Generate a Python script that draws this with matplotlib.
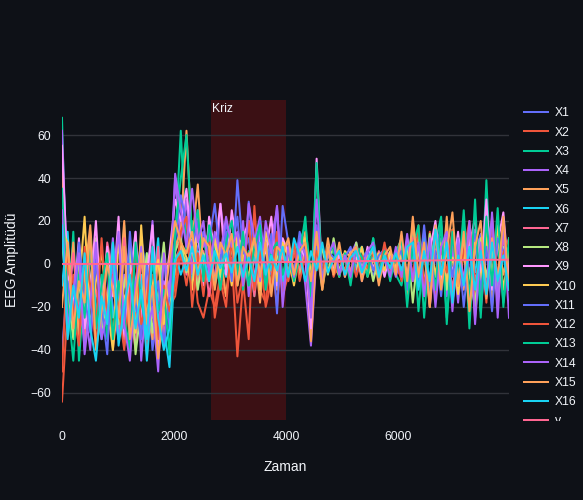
import numpy as np
import matplotlib
matplotlib.use("Agg")
import matplotlib.pyplot as plt
from matplotlib.patches import Rectangle

plt.rcParams['font.family'] = ['Liberation Sans', 'DejaVu Sans']

# EEG channel values (one value every ~100 time steps)
t_end = 7980
seizure_start, seizure_end = 2660, 4000

X1 = [30, -12, 5, -25, -8, 10, -30, -15, 2, -20,
      -35, 8, -10, -28, 12, -5, -40, -18, 4, -30,
      5, 20, 12, -5, 8, 15, -3, 10, -8, 20,
      5, 22, -10, 29, 3, -12, 8, -5, 27, -15,
      6, -4, 9, 2, -20, 18, -3, 5, -2, 4,
      -5, 3, 6, -4, 2, -6, 5, 1, -3, 4,
      8, -10, 12, -5, 15, -12, 6, 18, -8, 10,
      -15, 12, -20, 5, 14, -10, 20, -18, 8, -5]
X2 = [-64, -20, -5, -32, 3, -15, -38, -8, -22, 6,
      -18, -30, 2, -25, -10, -42, -5, -28, -12, -20,
      -15, 5, -10, 8, -18, -25, -12, -20, -5, -15,
      3, -43, -8, -35, 27, -12, -18, 5, -20, 10,
      -8, 5, -3, 12, -6, 2, -4, 6, -2, -5,
      3, -4, 8, 2, -5, 4, -3, 6, 1, -2,
      -6, 10, -8, 4, -12, 15, -5, 8, -10, 5,
      12, -8, 18, -20, 6, -12, 10, -5, 14, -8]
X3 = [68, -30, 15, -45, -10, 5, -25, -5, -35, 10,
      -20, 18, -42, -8, -30, 5, -15, -38, -10, -25,
      10, 62, 5, 20, -8, 12, -3, 8, -10, 15,
      -5, 10, -12, 6, -15, 12, -8, 4, -10, 8,
      5, -8, 10, 18, -5, 8, -10, 3, 6, -4,
      2, -6, 5, 8, -3, 12, -8, 4, 2, -5,
      -10, 5, 15, -22, 8, -15, 10, 22, -25, 6,
      -12, 20, -30, 15, -20, 39, -15, 10, -18, 5]
X4 = [62, -10, -30, 8, -20, -40, 5, -28, -15, 12,
      -35, -5, -22, 15, -45, -12, 20, -30, -8, -20,
      40, 10, 30, -5, 25, 8, 15, -10, 28, 5,
      12, -8, 20, -15, 10, 22, -5, 12, 25, -10,
      8, -4, 12, -10, -38, 5, -5, 8, -4, 6,
      -6, 4, 10, -8, 5, 2, -4, 8, 3, -6,
      5, -12, 10, -8, 14, -20, 6, 12, -15, 8,
      -18, 10, -5, 16, -22, 8, 20, -25, 18, -10]
X5 = [45, -22, 10, -35, -5, 18, -25, -12, 5, -40,
      -15, 20, -30, -8, 10, -20, -35, 5, -25, -10,
      8, 15, 62, 10, 37, -3, 12, -8, 5, -15,
      10, -5, 15, -10, 8, -18, 12, -3, -12, 6,
      10, -6, 4, 15, -36, 8, -8, 12, -5, 3,
      4, -8, 6, 2, -5, 10, -6, 3, -2, 5,
      12, -15, 20, -8, 6, -20, 15, -10, 22, -18,
      8, -12, 18, -25, 10, 15, -20, 12, -5, 8]
X6 = [-10, 15, -30, -5, -40, 10, -20, -35, 5, -25,
      -15, -38, 8, -22, -5, -45, -12, 12, -30, -48,
      5, -5, 3, -8, 6, -2, 4, -10, 2, -6,
      8, -4, 5, -10, 3, -6, 10, -3, 6, -8,
      4, -6, 10, 2, -8, 5, -3, 8, -5, 2,
      -3, 6, -2, 8, -4, 3, -6, 5, 2, -3,
      6, -8, 4, -5, 12, -10, 18, -6, 8, -12,
      5, -8, 10, -4, 12, -15, 6, -10, 8, -4]
X7 = [20, -25, 5, -18, -35, 8, -12, -28, 10, -5,
      -30, 12, -20, -40, 3, -15, -25, 8, -35, -12,
      2, 8, -5, 12, -10, 6, -15, 4, -8, 10,
      -6, 12, -10, 5, -15, 8, -3, 10, -8, 4,
      -5, 8, -3, 6, -10, 12, -4, 5, -2, 3,
      5, -3, 2, -5, 4, -2, 6, -4, 3, -1,
      8, -6, 12, -10, 5, -8, 14, -4, 10, -12,
      6, -10, 15, -8, 4, -14, 9, -6, 12, -3]
X8 = [10, -15, -35, 5, -22, -8, 12, -30, -18, 3,
      -28, -10, 8, -42, -20, 5, -32, -14, 10, -22,
      6, 12, -4, 8, -12, 5, -2, 10, -6, 3,
      7, -10, 4, -8, 12, -5, 8, -12, 3, 6,
      -4, 10, -6, 5, -8, 3, 7, -5, 12, -3,
      4, -6, 10, -2, 5, -8, 3, 6, -4, 2,
      -5, 10, -18, 8, -10, 14, -6, 4, -12, 16,
      -8, 10, -5, -20, 12, -6, 10, -15, 8, 2]
X9 = [55, -5, -20, 12, -30, -12, 20, -25, 8, -15,
      22, -35, -8, 15, -25, -5, 18, -40, -15, 5,
      30, 20, 35, 5, 15, -10, 22, 6, 28, -5,
      25, 8, 12, 20, -8, 15, 5, 22, -10, 12,
      5, -6, 8, 3, -30, 49, -8, 6, -3, 4,
      -4, 6, 3, -5, 8, -2, 4, -6, 5, 2,
      10, -6, 8, 14, -10, 6, 20, -8, 12, -5,
      15, -10, 8, 22, -6, 30, -12, 10, 24, -8]
X10 = [15, 10, -25, -12, 22, -30, -8, 5, -20, -40,
       12, -18, -5, -32, 18, -22, -10, 2, -28, -8,
       -5, 10, 3, -12, 18, 2, -8, 12, -4, 6,
       -10, 14, 3, -6, 10, -12, 15, 5, -8, 10,
       3, -10, 6, 12, -4, 8, -12, 5, 2, -6,
       6, 3, -4, 8, -6, 2, 5, -3, 6, -2,
       4, -10, 6, 12, -15, 8, -5, 10, -8, 3,
       -14, 6, -20, 10, -8, 12, -5, 18, -12, 6]
X11 = [-40, -8, -28, 10, -15, -32, 2, -20, -42, 8,
       -12, -30, 15, -18, -35, 0, -22, -8, -38, -15,
       12, 32, 18, 8, 20, -5, 10, 28, 2, 15,
       -8, 39, 5, 12, -10, 20, -6, 14, -23, 27,
       10, -5, 15, 4, -6, 8, -10, 6, 3, -4,
       3, 8, -5, 2, 6, -3, 4, 7, -6, 3,
       6, -12, 10, -8, 18, -10, 6, -15, 12, -6,
       10, -20, 6, 14, -12, 8, -22, 12, 6, -10]
X12 = [-50, 5, -22, -38, 8, -10, -30, 12, -25, -5,
       -20, -40, -12, 5, -28, -18, 8, -35, -10, -22,
       -10, 15, 22, -20, 5, -15, 10, -25, -8, -20,
       12, -18, -5, 20, -12, 6, -20, -8, 15, -15,
       -5, 10, -8, 4, -12, 6, -3, 8, -6, 2,
       -3, 5, -6, 4, -2, 6, -4, 10, -5, 3,
       -8, 12, -6, 18, -10, 5, -15, 8, -4, 16,
       -10, 6, 20, -12, 8, -18, 22, -8, 5, 12]
X13 = [35, -18, -45, -5, -25, 12, -30, -10, 5, -35,
       -8, -25, -40, 10, -18, -30, 2, -22, -12, -42,
       15, 40, 60, 12, 25, -8, 18, 5, -12, 10,
       20, -5, 15, -10, 8, 18, -12, 6, 10, -5,
       6, -8, 4, 22, -15, 47, -10, 5, 8, -6,
       5, -10, 8, 3, -6, 12, -4, 6, -8, 4,
       12, -20, 8, 18, -25, 10, -12, 20, -28, 15,
       -8, 25, -18, 30, -25, 22, -10, 26, -20, 12]
X14 = [25, -30, -12, 5, -42, -18, 10, -35, -22, -8,
       15, -28, -45, -10, 8, -32, -20, -50, 5, -15,
       42, 25, 8, 35, 10, 20, -5, 15, 5, 22,
       8, 15, -10, 28, 12, -8, 20, 5, 27, -20,
       8, -6, 10, 5, -25, 30, -8, 4, 10, -5,
       4, -6, 8, -3, 6, 10, -5, 3, -6, 8,
       -6, 14, -8, 10, -15, 12, -20, 8, 15, -22,
       12, -10, 20, -28, 10, -15, 24, -18, 20, -25]
X15 = [-20, 10, -30, -8, -18, 15, -40, -22, 0, -12,
       -25, 8, -35, -15, 5, -28, -10, -44, -20, 2,
       20, 10, 5, 15, -5, 12, 8, -12, 10, 4,
       14, -10, 8, 3, 12, -6, 10, -15, 8, 5,
       12, -5, 6, 10, -8, 15, -12, 8, -5, 10,
       -6, 5, 8, -8, 3, 6, -10, 4, 8, -5,
       15, -8, 22, -6, 10, -20, 18, -12, 6, 24,
       -10, 15, -22, 8, 20, -16, 12, -8, 22, -12]
X16 = [18, -35, -10, -25, 5, -30, -45, -15, -28, 10,
       -38, -20, -5, -30, -12, -35, 8, -25, -40, -30,
       2, 6, -3, 8, -5, 4, -8, 6, -2, 5,
       -4, 8, -6, 3, -8, 10, -5, 4, -3, 8,
       -6, 12, 4, -8, 6, -3, 10, -4, 2, 6,
       -5, 3, 6, -4, 2, 8, -6, 4, -2, 5,
       -3, 8, 10, -12, 6, -8, 16, -5, 10, -18,
       4, -10, 8, -12, 6, -14, 10, -8, 4, -12]
y = [0, 0, 0, 0, 0.5, 0.6, 0.8, 1.0, 1.2, 1.4, 1.5, 1.7, 1.9, 2.0]

channels = [X1, X2, X3, X4, X5, X6, X7, X8, X9, X10,
            X11, X12, X13, X14, X15, X16, y]
labels = [f"X{i}" for i in range(1, 17)] + ["y"]

# plotly default colour cycle
colors = ["#636EFA", "#EF553B", "#00CC96", "#AB63FA", "#FFA15A",
          "#19D3F3", "#FF6692", "#B6E880", "#FF97FF", "#FECB52"]

bg = "#0e1117"
fg = "#f2f5fa"

fig = plt.figure(figsize=(5.83, 5.0), dpi=100, facecolor=bg)
ax = fig.add_axes([0.1063, 0.16, 0.7668, 0.64], facecolor=bg)

# seizure window
ax.axvspan(seizure_start, seizure_end, color="#3b1014", zorder=0, lw=0)
ax.text(seizure_start + 20, 72.3, "Kriz", color=fg, fontsize=8.7,
        ha="left", va="center")

for i, (vals, name) in enumerate(zip(channels, labels)):
    t = np.linspace(0, t_end, len(vals))
    ax.plot(t, vals, color=colors[i % 10], lw=1.45, label=name, zorder=2)

ax.set_xlim(0, t_end)
ax.set_ylim(-72.6, 76.3)
ax.set_xticks([0, 2000, 4000, 6000])
ax.set_yticks([-60, -40, -20, 0, 20, 40, 60])
ax.grid(axis="y", color="#31333a", lw=1)
ax.set_axisbelow(True)
ax.tick_params(colors=fg, labelsize=8.7, length=0, pad=8)
for s in ax.spines.values():
    s.set_visible(False)

ax.set_xlabel("Zaman", color=fg, fontsize=10, labelpad=12)
ax.set_ylabel("EEG Amplitüdü", color=fg, fontsize=10, labelpad=8)

leg = fig.legend(loc="upper left", bbox_to_anchor=(0.89, 0.795),
                 frameon=False, fontsize=8.7, handlelength=2.0,
                 handletextpad=0.6, labelspacing=0.6, borderaxespad=0)
for txt in leg.get_texts():
    txt.set_color(fg)

# legend is cut off at the bottom like the scrolling legend
fig.add_artist(Rectangle((0.88, 0), 0.12, 0.158, transform=fig.transFigure,
                         facecolor=bg, edgecolor="none", zorder=10))

fig.savefig("out.png", dpi=100, facecolor=bg)
